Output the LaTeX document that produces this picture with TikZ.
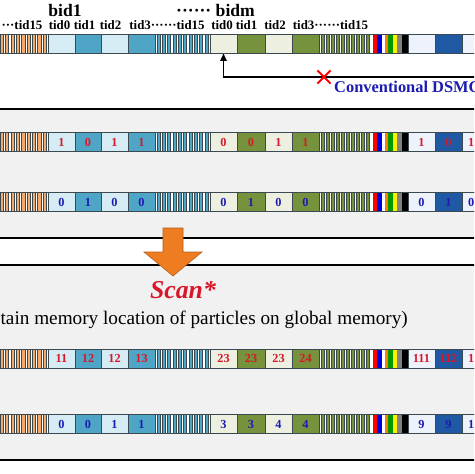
\documentclass[tikz,border=0pt]{standalone}
\usepackage{fontspec}
\setmainfont{Liberation Serif}
\usetikzlibrary{arrows.meta,shapes.misc}
\definecolor{Panel}{HTML}{F1F1F1}
\definecolor{CellLight}{HTML}{D5ECF4}
\definecolor{CellMid}{HTML}{4FA5C6}
\definecolor{CellPale}{HTML}{EDF0E0}
\definecolor{CellGreen}{HTML}{76923C}
\definecolor{CellWhite}{HTML}{EEF3FB}
\definecolor{CellNavy}{HTML}{1F58A3}
\definecolor{StripeOrange}{HTML}{F3A96B}
\definecolor{Edge}{HTML}{3A4A50}
\definecolor{NumRed}{HTML}{D8182A}
\definecolor{NumBlue}{HTML}{1C1CB0}
\definecolor{ScanOrange}{HTML}{EE7D22}
\tikzset{
  cell/.style={draw=Edge, line width=0.6pt, minimum height=0.57cm, inner sep=0pt, outer sep=0pt},
  stripe/.style={draw=Edge, line width=0.3pt},
  numred/.style={text=NumRed, inner sep=0pt, font=\fontsize{10.5}{12}\selectfont\bfseries},
  numblue/.style={text=NumBlue, inner sep=0pt, font=\fontsize{10.5}{12}\selectfont\bfseries},
  tidlabel/.style={inner sep=0pt, font=\fontsize{11}{13}\selectfont\bfseries},
  bidlabel/.style={inner sep=0pt, font=\fontsize{15}{17}\selectfont\bfseries},
  sepline/.style={line width=1.4pt, draw=black},
  convarrow/.style={-{Triangle[length=2.2mm,width=1.9mm]}, line width=1.2pt}
}
% one row of global memory: #1 name, #2 centre row (px)
\newcommand{\membar}[2]{%
  \begin{scope}[shift={(0,#2)}]
    \fill[white] (0,-9.5) rectangle (490,9.5);
    % bid0 threads
    \foreach \k in {0,...,8}
      \filldraw[stripe, fill=StripeOrange] ({\k*5.35},-9.5) rectangle ++(3.3,19);
    % bid1 threads
    \foreach \k in {0,...,9}
      \filldraw[stripe, fill=CellMid] ({157+\k*5.3},-9.5) rectangle ++(3,19);
    % bidm threads
    \foreach \k in {0,...,9}
      \filldraw[stripe, fill=CellGreen] ({321+\k*5},-9.5) rectangle ++(2.8,19);
    \foreach \l/\r/\c in {373/377/red, 377/382/blue!85!black, 385/388/orange, 388/393/green!60!black, 393/397/yellow, 397/402/gray, 402/408/black}
      \fill[\c] (\l,-9.5) rectangle (\r,9.5);
    \draw[Edge, line width=0.6pt] (0,-9.5) rectangle (490,9.5);
    \foreach \l/\r/\c [count=\n] in {48/75/CellLight, 75/101/CellMid, 101/128/CellLight, 128/155/CellMid, 210/237/CellPale, 237/265/CellGreen, 265/292/CellPale, 292/319/CellGreen, 408/435/CellWhite, 435/462/CellNavy, 462/486/CellWhite}
      \node[cell, fill=\c, minimum width={(\r-\l)*0.03cm}] (#1-\n) at ({(\l+\r)/2},0) {};
  \end{scope}
}

\begin{document}
\begin{tikzpicture}[x=0.03cm, y=-0.03cm]
\useasboundingbox (0,0) rectangle (474,474);
\clip (0,0) rectangle (474,474);
\fill[Panel] (0,109) rectangle (474,460);
\fill[white] (0,238) rectangle (474,265);
\draw[sepline] (-5,109) -- (480,109);
\draw[sepline] (-5,238) -- (480,238);
\draw[sepline] (-5,265) -- (480,265);
\draw[sepline, line width=1.8pt] (-5,460) -- (480,460);

% labels over the first row
\node[bidlabel] (bid1) at (65,10) {bid1};
\node[bidlabel, anchor=west] (bidm) at (176,10) {······ bidm};
\foreach \x/\t [count=\n] in {22/{···tid15}, 59.5/tid0, 84.5/tid1, 110.5/tid2, 167/{tid3······tid15}, 222/tid0, 246.5/tid1, 275/tid2, 330.5/{tid3······tid15}}
  \node[tidlabel] (tid\n) at (\x,25) {\t};

\membar{mem}{44}
\membar{flagA}{142}
\membar{flagB}{202}
\membar{offA}{358.5}
\membar{offB}{424}

\foreach \t [count=\n] in {1,0,1,1,0,0,1,1,1,0}
  \node[numred] (flagA-t\n) at (flagA-\n) {\t};
\foreach \t [count=\n] in {0,1,0,0,0,1,0,0,0,1}
  \node[numblue] (flagB-t\n) at (flagB-\n) {\t};
\foreach \t [count=\n] in {11,12,12,13,23,23,23,24,111,112}
  \node[numred] (offA-t\n) at (offA-\n) {\t};
\foreach \t [count=\n] in {0,0,1,1,3,3,4,4,9,9}
  \node[numblue] (offB-t\n) at (offB-\n) {\t};
% partly seen last cells
\node[numred, anchor=west] (flagA-t11) at ([xshift=5pt]flagA-11.west) {1};
\node[numblue, anchor=west] (flagB-t11) at ([xshift=5pt]flagB-11.west) {0};
\node[numred, anchor=west] (offA-t11) at ([xshift=5pt]offA-11.west) {1};
\node[numblue, anchor=west] (offB-t11) at ([xshift=5pt]offB-11.west) {1};

% conventional access
\coordinate (dsmc-start) at (480,77);
\draw[convarrow] (dsmc-start) -| (mem-5.south);
\node[cross out, draw=red, line width=1.8pt, minimum size=0.33cm, inner sep=0pt] (xmark) at (324,77) {};
\node[anchor=west, inner sep=0pt, text=NumBlue, font=\fontsize{14}{16}\selectfont\bfseries] (dsmc) at (334,87) {Conventional DSMC};

% scan step
\filldraw[fill=ScanOrange, draw=ScanOrange!75!black, line width=0.5pt] (163,228) -- (183,228) -- (183,252) -- (202,252) -- (173,276) -- (144,252) -- (163,252) -- cycle;
\node[text=NumRed, inner sep=0pt, font=\fontsize{22}{24}\selectfont\bfseries\itshape] (scan) at (183,290) {Scan*};
\node[anchor=east, inner sep=0pt, font=\fontsize{16.4}{18}\selectfont] (memloc) at (408,320) {(Obtain memory location of particles on global memory)};
\end{tikzpicture}
\end{document}
